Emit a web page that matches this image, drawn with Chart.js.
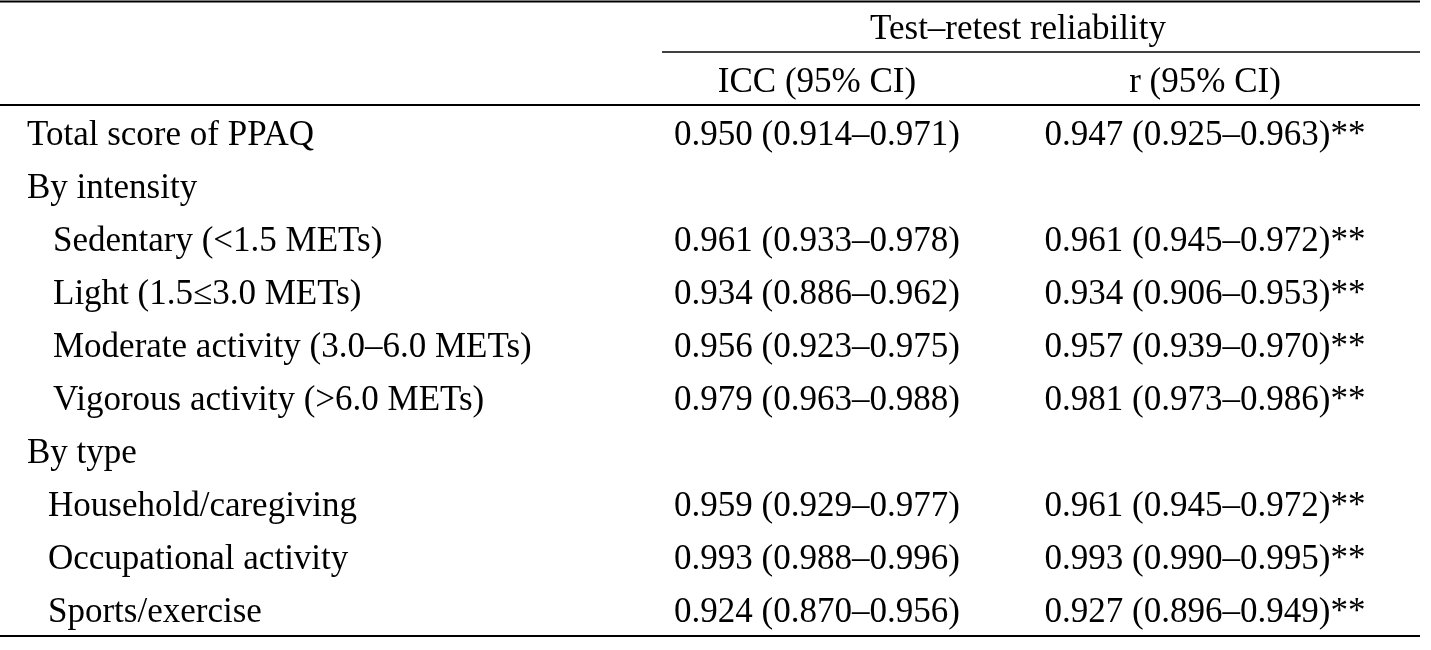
<!DOCTYPE html>
<html>
<head>
<meta charset="utf-8">
<script src="https://cdn.jsdelivr.net/npm/chart.js@4"></script>
<style>
  body { margin: 0; background: #fff; }
  #wrap { width: 1431px; height: 650px; position: relative; }
</style>
</head>
<body>
<div id="wrap"><canvas id="tabla"></canvas></div>
<script>
// Datos de la tabla
const etiquetas = [
  'Total score of PPAQ', 'By intensity', 'Sedentary (<1.5 METs)', 'Light (1.5\u22643.0 METs)',
  'Moderate activity (3.0\u20136.0 METs)', 'Vigorous activity (>6.0 METs)', 'By type',
  'Household/caregiving', 'Occupational activity', 'Sports/exercise'
];
const sangria = [0, 0, 1, 1, 1, 1, 0, 2, 2, 2];
const icc = [
  '0.950 (0.914\u20130.971)', '', '0.961 (0.933\u20130.978)', '0.934 (0.886\u20130.962)',
  '0.956 (0.923\u20130.975)', '0.979 (0.963\u20130.988)', '', '0.959 (0.929\u20130.977)',
  '0.993 (0.988\u20130.996)', '0.924 (0.870\u20130.956)'
];
const rPearson = [
  '0.947 (0.925\u20130.963)**', '', '0.961 (0.945\u20130.972)**', '0.934 (0.906\u20130.953)**',
  '0.957 (0.939\u20130.970)**', '0.981 (0.973\u20130.986)**', '', '0.961 (0.945\u20130.972)**',
  '0.993 (0.990\u20130.995)**', '0.927 (0.896\u20130.949)**'
];
const encabezado = 'Test\u2013retest reliability';
const columnas = ['ICC (95% CI)', 'r (95% CI)'];

const fuente = '35px "Liberation Serif", "DejaVu Serif", serif';

const tablaPlugin = {
  id: 'tabla',
  afterDraw(chart) {
    const ctx = chart.ctx;
    const x = chart.scales.x, y = chart.scales.y;
    const px = v => x.getPixelForValue(v), py = v => y.getPixelForValue(v);
    ctx.save();
    ctx.fillStyle = '#000';
    ctx.strokeStyle = '#000';
    ctx.font = fuente;
    ctx.textBaseline = 'middle';

    function linea(x0, x1, yy, w) {
      ctx.lineWidth = w;
      ctx.beginPath();
      ctx.moveTo(px(x0), py(yy));
      ctx.lineTo(px(x1), py(yy));
      ctx.stroke();
    }
    linea(0, 1420, 1.5, 2);
    linea(662, 1420, 52, 1.5);
    linea(0, 1420, 105, 2);
    linea(0, 1420, 636, 2);

    ctx.textAlign = 'center';
    ctx.fillText(encabezado, px(1018), py(30));
    ctx.fillText(columnas[0], px(817), py(83));
    ctx.fillText(columnas[1], px(1205), py(83));

    const sangriaX = [27, 53, 48];
    etiquetas.forEach((et, i) => {
      const yy = 136 + i * 53;
      ctx.textAlign = 'left';
      ctx.fillText(et, px(sangriaX[sangria[i]]), py(yy));
      ctx.textAlign = 'center';
      if (icc[i]) ctx.fillText(icc[i], px(817), py(yy));
      if (rPearson[i]) ctx.fillText(rPearson[i], px(1205), py(yy));
    });
    ctx.restore();
  }
};

new Chart(document.getElementById('tabla'), {
  type: 'scatter',
  data: { datasets: [{ data: [] }] },
  options: {
    responsive: true,
    maintainAspectRatio: false,
    animation: false,
    layout: { padding: 0 },
    plugins: { legend: { display: false }, tooltip: { enabled: false } },
    scales: {
      x: { type: 'linear', min: 0, max: 1431, display: false },
      y: { type: 'linear', min: 0, max: 650, reverse: true, display: false }
    }
  },
  plugins: [tablaPlugin]
});
</script>
</body>
</html>
